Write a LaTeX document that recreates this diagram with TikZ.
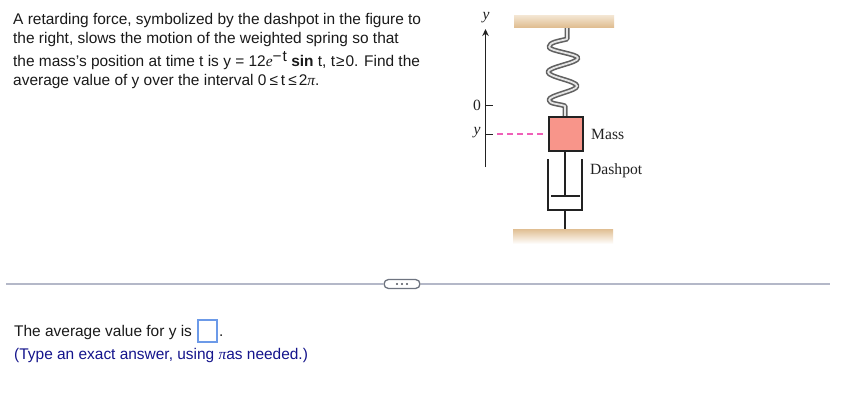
\documentclass[tikz,border=0pt]{standalone}
\usepackage{fontspec}
\setmainfont{Liberation Sans}
\newfontfamily\serifface{Liberation Serif}
\usetikzlibrary{arrows.meta}
\definecolor{inktext}{HTML}{1A1A1A}
\definecolor{answerblue}{HTML}{14148C}
\definecolor{rulegrey}{HTML}{B4B8C8}
\definecolor{pillgrey}{HTML}{6E7480}
\definecolor{boxblue}{HTML}{6C9AE8}
\definecolor{tan}{HTML}{E6C9A0}
\definecolor{massfill}{HTML}{F8958A}
\definecolor{dashpink}{HTML}{F060B8}
\definecolor{figink}{HTML}{222222}
\tikzset{
 para/.style={anchor=base west,inner sep=0,text=inktext,font=\fontsize{15.45}{17}\selectfont},
 figlabel/.style={inner sep=0,text=figink,font=\serifface\fontsize{15.6}{17}\selectfont},
 pot/.style={draw=figink,line width=2pt},
 ax/.style={draw=figink,line width=1.3pt},
}
\begin{document}
\begin{tikzpicture}[x=1pt,y=-1pt]
\useasboundingbox (0,0) rectangle (842,415);
\fill[white] (0,0) rectangle (842,415);
% text
\node[para] (l1) at (13,24) {A retarding force, symbolized by the dashpot in the figure to};
\node[para] (l2) at (13,43) {the right, slows the motion of the weighted spring so that};
\node[para] (l3) at (13,66) {the mass's position at time t is y = 12{\serifface\itshape e}\raisebox{5pt}{−\hspace{1pt}t} \textbf{sin} t, t\hspace{1pt}≥\hspace{1pt}0. Find the};
\node[para] (l4) at (13,85) {average value of y over the interval 0\hspace{3pt}≤\hspace{3pt}t\hspace{3pt}≤\hspace{2pt}2{\serifface\itshape π}.};
% ceiling and floor
\shade[top color=tan!45,bottom color=tan!85!brown] (514,15) rectangle (614,27);
\shade[top color=tan!85!brown,bottom color=white] (513,229) rectangle (613,244);
% axis
\coordinate (axb) at (485.5,167);
\coordinate (axt) at (485.5,29);
\draw[ax,-{Stealth[length=7pt,width=6.5pt]}] (axb) -- (axt);
\coordinate (t0) at (493,105);
\coordinate (ty) at (493,134);
\draw[draw=figink,line width=1pt] (485.5,105) -- (t0);
\draw[draw=figink,line width=1pt] (485.5,134) -- (ty);
\node[figlabel,font=\serifface\itshape\fontsize{15.6}{17}\selectfont] (ylab) at (486,18) {y};
\node[figlabel] (zero) at (477,105) {0};
\node[figlabel,font=\serifface\itshape\fontsize{15.6}{17}\selectfont] (ylab2) at (477,133) {y};
% spring
\def\springpath{(567,28) -- (567,39) .. controls (560,41) and (549,42) .. (549,47) .. controls (549,51) and (578,54) .. (578,58) .. controls (578,63) and (548,67) .. (548,72) .. controls (548,77) and (577,81) .. (577,86) .. controls (577,91) and (549,95) .. (549,100) .. controls (549,104) and (560,104) .. (565,106) -- (565,117)}
\draw[draw=black!62,line width=5pt,line join=round] \springpath;
\draw[draw=black!10,line width=1.8pt,line join=round] \springpath;
% mass
\node[draw=figink,line width=1.2pt,fill=massfill,minimum width=34pt,minimum height=34pt,inner sep=0] (mass) at (566,134) {};
\coordinate (dl) at (543,134);
\coordinate (dr) at (497,134);
\draw[draw=dashpink,line width=1.3pt,dash pattern=on 6pt off 4pt] (dr) -- (dl);
\node[figlabel,anchor=west] (masslab) at (591,134.5) {Mass};
\node[figlabel,anchor=west] (potlab) at (590,171) {Dashpot};
% dashpot
\coordinate (pist) at (565,196);
\draw[pot] (565,151) -- (pist);
\draw[pot] (551,196) -- (580,196);
\draw[pot,line join=miter] (548,159) -- (548,210) -- (582,210) -- (582,159);
\draw[pot] (565,210) -- (565,229);
% divider
\node[draw=pillgrey,line width=1.3pt,rounded corners=4.5pt,minimum width=36pt,minimum height=9pt,inner sep=0,fill=white] (pill) at (402,284) {};
\foreach \x in {397,402,407}{\fill[pillgrey!70!black] (\x,284) circle (1.1pt);}
\coordinate (rl) at (6,284);
\coordinate (rr) at (830,284);
\draw[draw=rulegrey,line width=1.4pt] (rl) -- (pill.west);
\draw[draw=rulegrey,line width=1.4pt] (pill.east) -- (rr);
% answer
\node[para] (ans) at (14,336) {The average value for y is};
\node[draw=boxblue,line width=1.2pt,minimum width=19pt,minimum height=22pt,inner sep=0] (box) at (207.5,331) {};
\node[para] (dot) at (219,336) {.};
\node[para,text=answerblue] (hint) at (14,359) {(Type an exact answer, using {\serifface\itshape π}as needed.)};
\end{tikzpicture}
\end{document}
